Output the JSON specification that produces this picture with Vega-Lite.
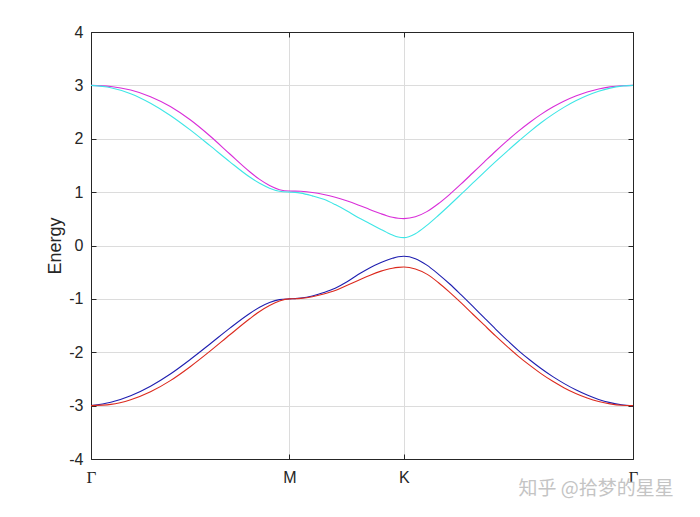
{
  "$schema": "https://vega.github.io/schema/vega-lite/v6.json",
  "width": 542,
  "height": 427,
  "autosize": {"type": "none"},
  "padding": {"left": 91, "top": 32, "right": 67, "bottom": 58},
  "background": "white",
  "config": {"view": {"stroke": "#262626", "strokeWidth": 1}, "font": "Liberation Sans"},
  "resolve": {"axis": {"x": "independent", "y": "independent"}},
  "layer": [
    {
      "data": {"values": [
        {"band":"magenta","k":0,"E":3.0},{"band":"magenta","k":0.05774,"E":2.980},{"band":"magenta","k":0.11547,"E":2.912},{"band":"magenta","k":0.17321,"E":2.789},{"band":"magenta","k":0.23094,"E":2.605},{"band":"magenta","k":0.28868,"E":2.356},{"band":"magenta","k":0.34641,"E":2.052},{"band":"magenta","k":0.40415,"E":1.714},{"band":"magenta","k":0.46188,"E":1.382},{"band":"magenta","k":0.49075,"E":1.238},{"band":"magenta","k":0.51962,"E":1.123},{"band":"magenta","k":0.54848,"E":1.046},{"band":"magenta","k":0.57735,"E":1.02},
        {"band":"magenta","k":0.59402,"E":1.019},{"band":"magenta","k":0.61068,"E":1.015},{"band":"magenta","k":0.64402,"E":0.994},{"band":"magenta","k":0.67735,"E":0.956},{"band":"magenta","k":0.71068,"E":0.904},{"band":"magenta","k":0.74402,"E":0.837},{"band":"magenta","k":0.77735,"E":0.760},{"band":"magenta","k":0.81068,"E":0.676},{"band":"magenta","k":0.84402,"E":0.594},{"band":"magenta","k":0.86068,"E":0.558},{"band":"magenta","k":0.87735,"E":0.529},{"band":"magenta","k":0.89402,"E":0.510},{"band":"magenta","k":0.91068,"E":0.504},
        {"band":"magenta","k":0.94402,"E":0.537},{"band":"magenta","k":0.97735,"E":0.635},{"band":"magenta","k":1.01068,"E":0.782},{"band":"magenta","k":1.04402,"E":0.959},{"band":"magenta","k":1.07735,"E":1.154},{"band":"magenta","k":1.11068,"E":1.358},{"band":"magenta","k":1.14402,"E":1.563},{"band":"magenta","k":1.17735,"E":1.766},{"band":"magenta","k":1.21068,"E":1.960},{"band":"magenta","k":1.24402,"E":2.143},{"band":"magenta","k":1.27735,"E":2.310},{"band":"magenta","k":1.31068,"E":2.461},{"band":"magenta","k":1.34402,"E":2.593},{"band":"magenta","k":1.37735,"E":2.707},{"band":"magenta","k":1.41068,"E":2.801},{"band":"magenta","k":1.44402,"E":2.876},{"band":"magenta","k":1.47735,"E":2.933},{"band":"magenta","k":1.51068,"E":2.972},{"band":"magenta","k":1.54402,"E":2.994},{"band":"magenta","k":1.57735,"E":3.0},

        {"band":"cyan","k":0,"E":3.0},{"band":"cyan","k":0.05774,"E":2.957},{"band":"cyan","k":0.11547,"E":2.845},{"band":"cyan","k":0.17321,"E":2.666},{"band":"cyan","k":0.23094,"E":2.437},{"band":"cyan","k":0.28868,"E":2.166},{"band":"cyan","k":0.34641,"E":1.870},{"band":"cyan","k":0.40415,"E":1.568},{"band":"cyan","k":0.46188,"E":1.283},{"band":"cyan","k":0.49075,"E":1.165},{"band":"cyan","k":0.51962,"E":1.074},{"band":"cyan","k":0.54848,"E":1.016},{"band":"cyan","k":0.57735,"E":1.0},
        {"band":"cyan","k":0.59402,"E":0.996},{"band":"cyan","k":0.61068,"E":0.982},{"band":"cyan","k":0.64402,"E":0.93},{"band":"cyan","k":0.67735,"E":0.865},{"band":"cyan","k":0.71068,"E":0.766},{"band":"cyan","k":0.74402,"E":0.651},{"band":"cyan","k":0.77735,"E":0.524},{"band":"cyan","k":0.81068,"E":0.413},{"band":"cyan","k":0.84402,"E":0.30},{"band":"cyan","k":0.86068,"E":0.246},{"band":"cyan","k":0.87735,"E":0.196},{"band":"cyan","k":0.89402,"E":0.159},{"band":"cyan","k":0.91068,"E":0.148},
        {"band":"cyan","k":0.94402,"E":0.222},{"band":"cyan","k":0.97735,"E":0.377},{"band":"cyan","k":1.01068,"E":0.562},{"band":"cyan","k":1.04402,"E":0.759},{"band":"cyan","k":1.07735,"E":0.962},{"band":"cyan","k":1.11068,"E":1.167},{"band":"cyan","k":1.14402,"E":1.371},{"band":"cyan","k":1.17735,"E":1.571},{"band":"cyan","k":1.21068,"E":1.765},{"band":"cyan","k":1.24402,"E":1.953},{"band":"cyan","k":1.27735,"E":2.134},{"band":"cyan","k":1.31068,"E":2.304},{"band":"cyan","k":1.34402,"E":2.457},{"band":"cyan","k":1.37735,"E":2.593},{"band":"cyan","k":1.41068,"E":2.712},{"band":"cyan","k":1.44402,"E":2.812},{"band":"cyan","k":1.47735,"E":2.891},{"band":"cyan","k":1.51068,"E":2.949},{"band":"cyan","k":1.54402,"E":2.986},{"band":"cyan","k":1.57735,"E":3.0},

        {"band":"blue","k":0,"E":-3.0},{"band":"blue","k":0.05774,"E":-2.937},{"band":"blue","k":0.11547,"E":-2.815},{"band":"blue","k":0.17321,"E":-2.636},{"band":"blue","k":0.23094,"E":-2.407},{"band":"blue","k":0.28868,"E":-2.136},{"band":"blue","k":0.34641,"E":-1.845},{"band":"blue","k":0.40415,"E":-1.548},{"band":"blue","k":0.46188,"E":-1.273},{"band":"blue","k":0.49075,"E":-1.158},{"band":"blue","k":0.51962,"E":-1.069},{"band":"blue","k":0.54848,"E":-1.014},{"band":"blue","k":0.57735,"E":-1.0},
        {"band":"blue","k":0.59402,"E":-0.996},{"band":"blue","k":0.61068,"E":-0.985},{"band":"blue","k":0.64402,"E":-0.945},{"band":"blue","k":0.67735,"E":-0.88},{"band":"blue","k":0.71068,"E":-0.80},{"band":"blue","k":0.74402,"E":-0.685},{"band":"blue","k":0.77735,"E":-0.545},{"band":"blue","k":0.81068,"E":-0.42},{"band":"blue","k":0.84402,"E":-0.318},{"band":"blue","k":0.86068,"E":-0.275},{"band":"blue","k":0.87735,"E":-0.24},{"band":"blue","k":0.89402,"E":-0.212},{"band":"blue","k":0.91068,"E":-0.202},
        {"band":"blue","k":0.94402,"E":-0.247},{"band":"blue","k":0.97735,"E":-0.368},{"band":"blue","k":1.01068,"E":-0.535},{"band":"blue","k":1.04402,"E":-0.721},{"band":"blue","k":1.07735,"E":-0.926},{"band":"blue","k":1.11068,"E":-1.137},{"band":"blue","k":1.14402,"E":-1.352},{"band":"blue","k":1.17735,"E":-1.565},{"band":"blue","k":1.21068,"E":-1.771},{"band":"blue","k":1.24402,"E":-1.968},{"band":"blue","k":1.27735,"E":-2.145},{"band":"blue","k":1.31068,"E":-2.309},{"band":"blue","k":1.34402,"E":-2.457},{"band":"blue","k":1.37735,"E":-2.588},{"band":"blue","k":1.41068,"E":-2.704},{"band":"blue","k":1.44402,"E":-2.802},{"band":"blue","k":1.47735,"E":-2.884},{"band":"blue","k":1.51068,"E":-2.944},{"band":"blue","k":1.54402,"E":-2.983},{"band":"blue","k":1.57735,"E":-3.0},

        {"band":"red","k":0,"E":-3.0},{"band":"red","k":0.05774,"E":-2.977},{"band":"red","k":0.11547,"E":-2.890},{"band":"red","k":0.17321,"E":-2.741},{"band":"red","k":0.23094,"E":-2.532},{"band":"red","k":0.28868,"E":-2.271},{"band":"red","k":0.34641,"E":-1.980},{"band":"red","k":0.40415,"E":-1.673},{"band":"red","k":0.46188,"E":-1.373},{"band":"red","k":0.49075,"E":-1.236},{"band":"red","k":0.51962,"E":-1.124},{"band":"red","k":0.54848,"E":-1.039},{"band":"red","k":0.57735,"E":-1.0},
        {"band":"red","k":0.59402,"E":-0.998},{"band":"red","k":0.61068,"E":-0.99},{"band":"red","k":0.64402,"E":-0.96},{"band":"red","k":0.67735,"E":-0.91},{"band":"red","k":0.71068,"E":-0.845},{"band":"red","k":0.74402,"E":-0.75},{"band":"red","k":0.77735,"E":-0.655},{"band":"red","k":0.81068,"E":-0.56},{"band":"red","k":0.84402,"E":-0.48},{"band":"red","k":0.86068,"E":-0.449},{"band":"red","k":0.87735,"E":-0.425},{"band":"red","k":0.89402,"E":-0.409},{"band":"red","k":0.91068,"E":-0.402},
        {"band":"red","k":0.94402,"E":-0.439},{"band":"red","k":0.97735,"E":-0.536},{"band":"red","k":1.01068,"E":-0.693},{"band":"red","k":1.04402,"E":-0.878},{"band":"red","k":1.07735,"E":-1.076},{"band":"red","k":1.11068,"E":-1.283},{"band":"red","k":1.14402,"E":-1.489},{"band":"red","k":1.17735,"E":-1.694},{"band":"red","k":1.21068,"E":-1.889},{"band":"red","k":1.24402,"E":-2.076},{"band":"red","k":1.27735,"E":-2.247},{"band":"red","k":1.31068,"E":-2.405},{"band":"red","k":1.34402,"E":-2.545},{"band":"red","k":1.37735,"E":-2.668},{"band":"red","k":1.41068,"E":-2.772},{"band":"red","k":1.44402,"E":-2.857},{"band":"red","k":1.47735,"E":-2.923},{"band":"red","k":1.51068,"E":-2.968},{"band":"red","k":1.54402,"E":-2.994},{"band":"red","k":1.57735,"E":-3.0}
      ]},
      "mark": {"type": "line", "interpolate": "monotone", "strokeWidth": 1.1, "clip": true},
      "encoding": {
        "x": {
          "field": "k", "type": "quantitative",
          "scale": {"domain": [0, 1.57735], "nice": false, "zero": false},
          "axis": {
            "orient": "bottom",
            "title": null,
            "values": [0, 0.57735, 0.91068, 1.57735],
            "labelExpr": "datum.value < 0.1 ? 'Γ' : (datum.value < 0.7 ? 'M' : (datum.value < 1.2 ? 'K' : 'Γ'))",
            "labelFont": {"condition": {"test": "datum.value < 0.1 || datum.value > 1.5", "value": "Liberation Serif"}, "value": "Liberation Sans"},
            "labelFontSize": {"condition": {"test": "datum.value < 0.1 || datum.value > 1.5", "value": 17}, "value": 16},
            "labelColor": "#262626",
            "labelFlush": false,
            "labelOverlap": false,
            "labelPadding": 15,
            "ticks": true,
            "tickSize": -5,
            "tickColor": "#262626",
            "grid": true,
            "gridColor": "#dcdcdc",
            "gridWidth": 1,
            "domainColor": "#262626"
          }
        },
        "y": {
          "field": "E", "type": "quantitative",
          "scale": {"domain": [-4, 4], "nice": false, "zero": false},
          "axis": {
            "orient": "left",
            "title": "Energy",
            "titleFont": "Liberation Sans",
            "titleFontSize": 18,
            "titleFontWeight": "normal",
            "titleColor": "#262626",
            "titlePadding": 4,
            "values": [-4, -3, -2, -1, 0, 1, 2, 3, 4],
            "labelExpr": "'' + datum.value",
            "labelFontSize": 16,
            "labelColor": "#262626",
            "labelPadding": 13,
            "labelOverlap": false,
            "labelFlush": false,
            "ticks": true,
            "tickSize": -5,
            "tickColor": "#262626",
            "grid": true,
            "gridColor": "#dcdcdc",
            "gridWidth": 1,
            "domainColor": "#262626"
          }
        },
        "color": {
          "field": "band", "type": "nominal",
          "scale": {"domain": ["magenta", "cyan", "blue", "red"], "range": ["#d92ed9", "#3ee6e6", "#1f1fb0", "#dc2a1e"]},
          "legend": null
        }
      }
    },
    {
      "data": {"values": [{"k": 1.47, "E": -4.57, "label": "知乎 @拾梦的星星"}]},
      "mark": {"type": "text", "font": "Noto Sans CJK SC", "fontSize": 19, "color": "#c4c4c4", "align": "center", "baseline": "middle"},
      "encoding": {
        "x": {
          "field": "k", "type": "quantitative",
          "scale": {"domain": [0, 1.57735], "nice": false, "zero": false},
          "axis": {"orient": "top", "title": null, "values": [0, 0.57735, 0.91068, 1.57735], "labels": false, "grid": false, "ticks": true, "tickSize": -5, "tickColor": "#262626", "domainColor": "#262626"}
        },
        "y": {
          "field": "E", "type": "quantitative",
          "scale": {"domain": [-4, 4], "nice": false, "zero": false},
          "axis": {"orient": "right", "title": null, "values": [-4, -3, -2, -1, 0, 1, 2, 3, 4], "labels": false, "grid": false, "ticks": true, "tickSize": -5, "tickColor": "#262626", "domainColor": "#262626"}
        },
        "text": {"field": "label"}
      }
    }
  ]
}
